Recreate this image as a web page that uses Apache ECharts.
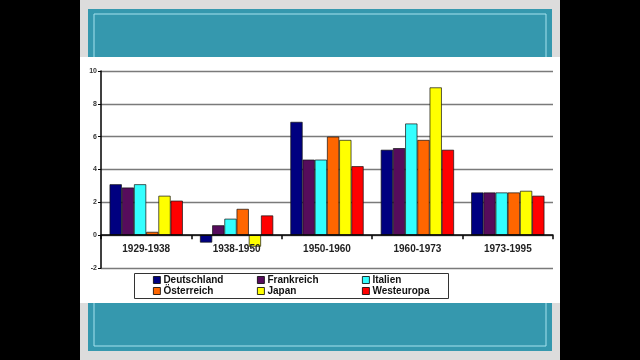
<!DOCTYPE html>
<html><head><meta charset="utf-8">
<script src="https://cdn.jsdelivr.net/npm/echarts@6/dist/echarts.min.js"></script>
<style>html,body{margin:0;padding:0;background:#000}#c{width:640px;height:360px}</style>
</head><body><div id="c"></div>
<script>
const categories = ['1929-1938','1938-1950','1950-1960','1960-1973','1973-1995'];
const deutschland = [3.1, -0.45, 6.9, 5.2, 2.6];
const frankreich  = [2.9, 0.6, 4.6, 5.3, 2.6];
const italien     = [3.1, 1.0, 4.6, 6.8, 2.6];
const oesterreich = [0.2, 1.6, 6.0, 5.8, 2.6];
const japan       = [2.4, -0.7, 5.8, 9.0, 2.7];
const westeuropa  = [2.1, 1.2, 4.2, 5.2, 2.4];
const seriesNames = ['Deutschland','Frankreich','Italien','Österreich','Japan','Westeuropa'];
const seriesData = [deutschland, frankreich, italien, oesterreich, japan, westeuropa];
const colors = ['#000080','#560c5c','#33ffff','#ff6600','#ffff00','#ff0000'];
const yTicks = {min: -2, max: 10, interval: 2};

const chart = echarts.init(document.getElementById('c'));
const font = 'Liberation Sans, Arial, sans-serif';
const legendCommon = {
  orient: 'vertical', itemWidth: 7, itemHeight: 7, itemGap: 0, icon: 'rect',
  textStyle: {fontFamily: font, fontWeight: 'bold', fontSize: 10, color: '#111', lineHeight: 11, padding: [0,0,0,-2]},
  itemStyle: {borderColor: '#000', borderWidth: 0.8},
  padding: 0, selectedMode: false
};
chart.setOption({
  backgroundColor: '#000',
  animation: false,
  graphic: [
    {type: 'rect', z: -1, shape: {x: 80, y: 0, width: 480, height: 360}, style: {fill: '#dcdcdc'}},
    {type: 'rect', z: -1, shape: {x: 88, y: 9, width: 464, height: 48}, style: {fill: '#3598ae'}},
    {type: 'rect', z: -1, shape: {x: 94, y: 14, width: 452, height: 50}, style: {fill: 'none', stroke: '#a6e2ee', lineWidth: 1}},
    {type: 'rect', z: -1, shape: {x: 88, y: 303, width: 464, height: 48}, style: {fill: '#3598ae'}},
    {type: 'rect', z: -1, shape: {x: 94, y: 296, width: 452, height: 50}, style: {fill: 'none', stroke: '#a6e2ee', lineWidth: 1}},
    {type: 'rect', z: -1, shape: {x: 80, y: 57, width: 480, height: 246}, style: {fill: '#ffffff'}},
    {type: 'rect', z: 1, shape: {x: 134.5, y: 273.5, width: 314, height: 25}, style: {fill: '#fff', stroke: '#333', lineWidth: 1}}
  ],
  grid: {left: 101, right: 87, top: 71, bottom: 92},
  legend: [
    Object.assign({left: 153, top: 274.5, data: ['Deutschland','Österreich'], z: 5}, legendCommon),
    Object.assign({left: 257, top: 274.5, data: ['Frankreich','Japan'], z: 5}, legendCommon),
    Object.assign({left: 362, top: 274.5, data: ['Italien','Westeuropa'], z: 5}, legendCommon)
  ],
  xAxis: {
    type: 'category', data: categories, z: 4,
    axisLine: {onZero: true, lineStyle: {color: '#000', width: 1.5}},
    axisTick: {show: true, length: 4, lineStyle: {color: '#000', width: 1.5}},
    axisLabel: {fontFamily: font, fontWeight: 'bold', fontSize: 10, color: '#222', margin: -24}
  },
  yAxis: {
    type: 'value', min: yTicks.min, max: yTicks.max, interval: yTicks.interval,
    axisLine: {show: true, lineStyle: {color: '#000', width: 1.5}},
    axisTick: {show: true, length: 3, lineStyle: {color: '#000'}},
    axisLabel: {fontFamily: font, fontWeight: 'bold', fontSize: 7, color: '#333', margin: 4},
    splitLine: {lineStyle: {color: '#7a7a7a', width: 1.3}}
  },
  series: seriesNames.map((n, i) => ({
    name: n, type: 'bar', data: seriesData[i],
    barGap: '0%', barCategoryGap: '19%',
    itemStyle: {color: colors[i], borderColor: '#111', borderWidth: 0.7}
  }))
});
</script></body></html>
